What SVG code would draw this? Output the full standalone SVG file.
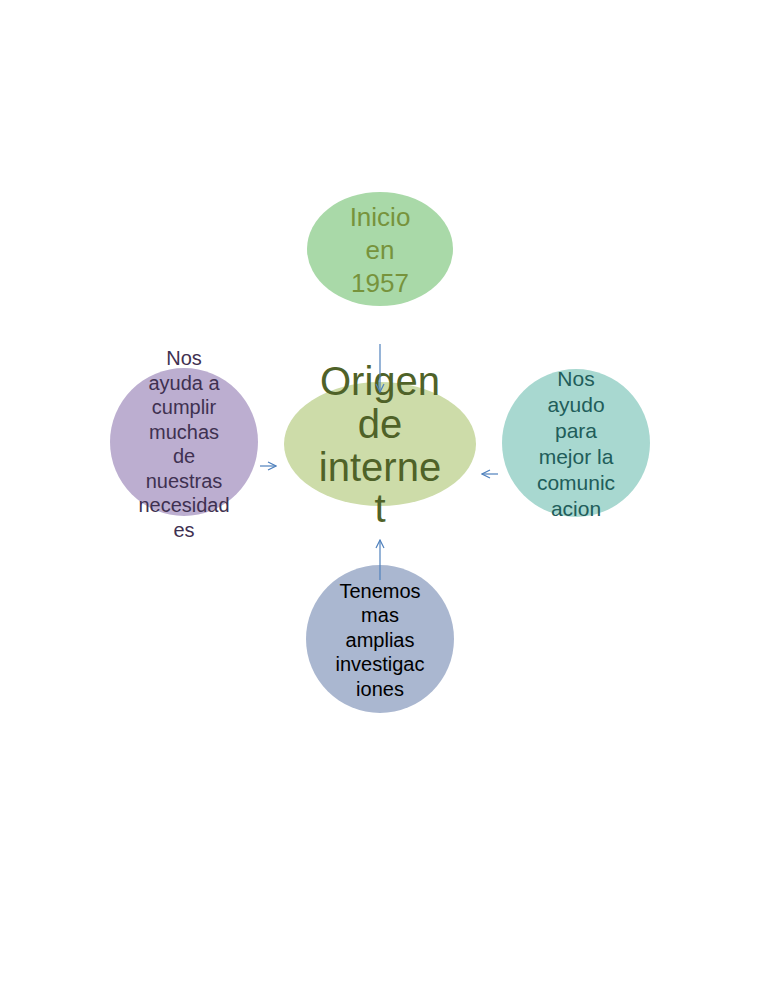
<svg xmlns="http://www.w3.org/2000/svg" width="768" height="994" viewBox="0 0 768 994">
<style>
text{font-family:"Liberation Sans",Arial,sans-serif;text-anchor:middle}
.c{stroke:#4f81bd;stroke-width:1.2;fill:none}
</style>
<defs><marker id="a" markerWidth="10" markerHeight="10" refX="9" refY="5" orient="auto" markerUnits="userSpaceOnUse"><path d="M1,1 L9,5 L1,9" fill="none" stroke="#4f81bd" stroke-width="1.2"/></marker></defs>
<rect width="768" height="994" fill="#fff"/>
<g id="top"><ellipse cx="380" cy="249" rx="73" ry="57" fill="#a9d9a8"/>
<text font-size="26" fill="#77933c"><tspan x="380" y="226">Inicio</tspan><tspan x="380" y="259">en</tspan><tspan x="380" y="292">1957</tspan></text></g>
<g id="left"><circle cx="184" cy="442" r="74" fill="#bcaed0"/>
<text font-size="20" fill="#3f3151"><tspan x="184" y="365">Nos</tspan><tspan x="184" y="390">ayuda a</tspan><tspan x="184" y="414">cumplir</tspan><tspan x="184" y="439">muchas</tspan><tspan x="184" y="463">de</tspan><tspan x="184" y="488">nuestras</tspan><tspan x="184" y="512">necesidad</tspan><tspan x="184" y="537">es</tspan></text></g>
<g id="right"><circle cx="576" cy="443" r="74" fill="#a8d8d0"/>
<text font-size="21" fill="#215d5a"><tspan x="576" y="386">Nos</tspan><tspan x="576" y="412">ayudo</tspan><tspan x="576" y="438">para</tspan><tspan x="576" y="464">mejor la</tspan><tspan x="576" y="490">comunic</tspan><tspan x="576" y="516">acion</tspan></text></g>
<g id="bottom"><circle cx="380" cy="639" r="74" fill="#aab7d0"/>
<text font-size="20" fill="#000"><tspan x="380" y="598">Tenemos</tspan><tspan x="380" y="622">mas</tspan><tspan x="380" y="647">amplias</tspan><tspan x="380" y="671">investigac</tspan><tspan x="380" y="696">iones</tspan></text></g>
<g id="center"><ellipse cx="380" cy="444" rx="96" ry="62" fill="#cddca9"/>
<text font-size="40" fill="#4f6228"><tspan x="380" y="395">Origen</tspan><tspan x="380" y="438">de</tspan><tspan x="380" y="481">interne</tspan><tspan x="380" y="522">t</tspan></text></g>
<g id="connectors">
<line class="c" x1="380" y1="344" x2="380" y2="392" marker-end="url(#a)"/>
<line class="c" x1="260" y1="466" x2="276" y2="466" marker-end="url(#a)"/>
<line class="c" x1="498" y1="474" x2="482" y2="474" marker-end="url(#a)"/>
<line class="c" x1="380" y1="580" x2="380" y2="540" marker-end="url(#a)"/>
</g>
</svg>
